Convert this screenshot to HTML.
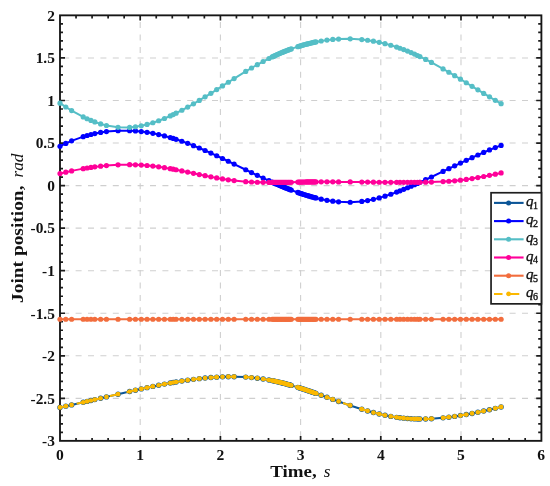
<!DOCTYPE html>
<html><head><meta charset="utf-8"><title>Joint position</title>
<style>html,body{margin:0;padding:0;background:#fff;} svg{display:block;filter:blur(0.35px);}</style>
</head><body>
<svg width="550" height="486" viewBox="0 0 550 486"><g stroke="#cfcfcf" stroke-width="1.1" stroke-dasharray="6 6.4" fill="none"><line x1="140.20" y1="15.40" x2="140.20" y2="440.90" stroke-dashoffset="5.7"/><line x1="220.40" y1="15.40" x2="220.40" y2="440.90" stroke-dashoffset="5.7"/><line x1="300.60" y1="15.40" x2="300.60" y2="440.90" stroke-dashoffset="5.7"/><line x1="380.80" y1="15.40" x2="380.80" y2="440.90" stroke-dashoffset="5.7"/><line x1="461.00" y1="15.40" x2="461.00" y2="440.90" stroke-dashoffset="5.7"/><line x1="60.00" y1="57.95" x2="541.20" y2="57.95" stroke-dashoffset="9.2"/><line x1="60.00" y1="100.50" x2="541.20" y2="100.50" stroke-dashoffset="9.2"/><line x1="60.00" y1="143.05" x2="541.20" y2="143.05" stroke-dashoffset="9.2"/><line x1="60.00" y1="185.60" x2="541.20" y2="185.60" stroke-dashoffset="9.2"/><line x1="60.00" y1="228.15" x2="541.20" y2="228.15" stroke-dashoffset="9.2"/><line x1="60.00" y1="270.70" x2="541.20" y2="270.70" stroke-dashoffset="9.2"/><line x1="60.00" y1="313.25" x2="541.20" y2="313.25" stroke-dashoffset="9.2"/><line x1="60.00" y1="355.80" x2="541.20" y2="355.80" stroke-dashoffset="9.2"/><line x1="60.00" y1="398.35" x2="541.20" y2="398.35" stroke-dashoffset="9.2"/></g>
<path d="M76.04 440.90v-3M76.04 15.40v3M92.08 440.90v-3M92.08 15.40v3M108.12 440.90v-3M108.12 15.40v3M124.16 440.90v-3M124.16 15.40v3M140.20 440.90v-5M140.20 15.40v5M156.24 440.90v-3M156.24 15.40v3M172.28 440.90v-3M172.28 15.40v3M188.32 440.90v-3M188.32 15.40v3M204.36 440.90v-3M204.36 15.40v3M220.40 440.90v-5M220.40 15.40v5M236.44 440.90v-3M236.44 15.40v3M252.48 440.90v-3M252.48 15.40v3M268.52 440.90v-3M268.52 15.40v3M284.56 440.90v-3M284.56 15.40v3M300.60 440.90v-5M300.60 15.40v5M316.64 440.90v-3M316.64 15.40v3M332.68 440.90v-3M332.68 15.40v3M348.72 440.90v-3M348.72 15.40v3M364.76 440.90v-3M364.76 15.40v3M380.80 440.90v-5M380.80 15.40v5M396.84 440.90v-3M396.84 15.40v3M412.88 440.90v-3M412.88 15.40v3M428.92 440.90v-3M428.92 15.40v3M444.96 440.90v-3M444.96 15.40v3M461.00 440.90v-5M461.00 15.40v5M477.04 440.90v-3M477.04 15.40v3M493.08 440.90v-3M493.08 15.40v3M509.12 440.90v-3M509.12 15.40v3M525.16 440.90v-3M525.16 15.40v3M60.00 23.91h3M541.20 23.91h-3M60.00 32.42h3M541.20 32.42h-3M60.00 40.93h3M541.20 40.93h-3M60.00 49.44h3M541.20 49.44h-3M60.00 57.95h5M541.20 57.95h-5M60.00 66.46h3M541.20 66.46h-3M60.00 74.97h3M541.20 74.97h-3M60.00 83.48h3M541.20 83.48h-3M60.00 91.99h3M541.20 91.99h-3M60.00 100.50h5M541.20 100.50h-5M60.00 109.01h3M541.20 109.01h-3M60.00 117.52h3M541.20 117.52h-3M60.00 126.03h3M541.20 126.03h-3M60.00 134.54h3M541.20 134.54h-3M60.00 143.05h5M541.20 143.05h-5M60.00 151.56h3M541.20 151.56h-3M60.00 160.07h3M541.20 160.07h-3M60.00 168.58h3M541.20 168.58h-3M60.00 177.09h3M541.20 177.09h-3M60.00 185.60h5M541.20 185.60h-5M60.00 194.11h3M541.20 194.11h-3M60.00 202.62h3M541.20 202.62h-3M60.00 211.13h3M541.20 211.13h-3M60.00 219.64h3M541.20 219.64h-3M60.00 228.15h5M541.20 228.15h-5M60.00 236.66h3M541.20 236.66h-3M60.00 245.17h3M541.20 245.17h-3M60.00 253.68h3M541.20 253.68h-3M60.00 262.19h3M541.20 262.19h-3M60.00 270.70h5M541.20 270.70h-5M60.00 279.21h3M541.20 279.21h-3M60.00 287.72h3M541.20 287.72h-3M60.00 296.23h3M541.20 296.23h-3M60.00 304.74h3M541.20 304.74h-3M60.00 313.25h5M541.20 313.25h-5M60.00 321.76h3M541.20 321.76h-3M60.00 330.27h3M541.20 330.27h-3M60.00 338.78h3M541.20 338.78h-3M60.00 347.29h3M541.20 347.29h-3M60.00 355.80h5M541.20 355.80h-5M60.00 364.31h3M541.20 364.31h-3M60.00 372.82h3M541.20 372.82h-3M60.00 381.33h3M541.20 381.33h-3M60.00 389.84h3M541.20 389.84h-3M60.00 398.35h5M541.20 398.35h-5M60.00 406.86h3M541.20 406.86h-3M60.00 415.37h3M541.20 415.37h-3M60.00 423.88h3M541.20 423.88h-3M60.00 432.39h3M541.20 432.39h-3" stroke="#1c1c1c" stroke-width="1.7" fill="none"/>
<rect x="60" y="15.35" width="481.4" height="425.5" fill="none" stroke="#161616" stroke-width="1.85"/>
<polyline points="60.00,407.38 65.80,406.16 71.61,404.90 83.22,402.31 87.09,401.42 90.95,400.52 94.82,399.62 100.63,398.26 106.43,396.90 118.04,394.18 129.65,391.49 135.45,390.18 141.26,388.90 147.06,387.64 152.86,386.42 158.67,385.24 164.47,384.11 170.28,383.03 173.18,382.51 176.08,382.01 181.88,381.05 187.69,380.17 193.49,379.37 199.29,378.65 205.10,378.04 210.90,377.53 216.71,377.13 222.51,376.85 228.31,376.71 234.12,376.70 245.73,377.12 251.53,377.58 257.33,378.20 263.14,379.00 268.94,379.98 272.13,380.61 273.26,380.84 274.39,381.08 275.51,381.33 276.64,381.58 277.77,381.84 278.89,382.10 280.02,382.37 281.15,382.65 282.27,382.94 283.40,383.22 284.53,383.52 285.65,383.82 286.78,384.12 287.91,384.43 289.03,384.75 290.16,385.07 291.29,385.39 297.85,387.37 299.05,387.75 300.26,388.13 301.47,388.51 302.67,388.90 303.88,389.30 305.09,389.70 306.30,390.10 307.50,390.50 308.71,390.91 309.92,391.32 311.13,391.73 312.33,392.14 313.54,392.56 314.75,392.98 315.95,393.40 321.18,395.24 326.98,397.31 332.79,399.39 338.59,401.45 350.20,405.46 361.81,409.21 367.61,410.93 373.41,412.54 379.22,414.00 385.02,415.29 390.82,416.41 396.63,417.34 400.00,417.77 403.70,418.17 407.50,418.50 411.10,418.73 414.50,418.88 417.50,418.96 419.90,418.99 425.65,418.94 431.45,418.72 443.06,417.84 448.86,417.19 454.67,416.42 460.47,415.53 466.28,414.54 472.08,413.45 477.88,412.28 483.69,411.04 489.49,409.73 495.30,408.36 501.10,406.95" fill="none" stroke="#0b5597" stroke-width="2"/>
<g fill="#0b5597"><circle cx="60.00" cy="407.38" r="2.7"/><circle cx="65.80" cy="406.16" r="2.7"/><circle cx="71.61" cy="404.90" r="2.7"/><circle cx="83.22" cy="402.31" r="2.7"/><circle cx="87.09" cy="401.42" r="2.7"/><circle cx="90.95" cy="400.52" r="2.7"/><circle cx="94.82" cy="399.62" r="2.7"/><circle cx="100.63" cy="398.26" r="2.7"/><circle cx="106.43" cy="396.90" r="2.7"/><circle cx="118.04" cy="394.18" r="2.7"/><circle cx="129.65" cy="391.49" r="2.7"/><circle cx="135.45" cy="390.18" r="2.7"/><circle cx="141.26" cy="388.90" r="2.7"/><circle cx="147.06" cy="387.64" r="2.7"/><circle cx="152.86" cy="386.42" r="2.7"/><circle cx="158.67" cy="385.24" r="2.7"/><circle cx="164.47" cy="384.11" r="2.7"/><circle cx="170.28" cy="383.03" r="2.7"/><circle cx="173.18" cy="382.51" r="2.7"/><circle cx="176.08" cy="382.01" r="2.7"/><circle cx="181.88" cy="381.05" r="2.7"/><circle cx="187.69" cy="380.17" r="2.7"/><circle cx="193.49" cy="379.37" r="2.7"/><circle cx="199.29" cy="378.65" r="2.7"/><circle cx="205.10" cy="378.04" r="2.7"/><circle cx="210.90" cy="377.53" r="2.7"/><circle cx="216.71" cy="377.13" r="2.7"/><circle cx="222.51" cy="376.85" r="2.7"/><circle cx="228.31" cy="376.71" r="2.7"/><circle cx="234.12" cy="376.70" r="2.7"/><circle cx="245.73" cy="377.12" r="2.7"/><circle cx="251.53" cy="377.58" r="2.7"/><circle cx="257.33" cy="378.20" r="2.7"/><circle cx="263.14" cy="379.00" r="2.7"/><circle cx="268.94" cy="379.98" r="2.7"/><circle cx="272.13" cy="380.61" r="2.7"/><circle cx="273.26" cy="380.84" r="2.7"/><circle cx="274.39" cy="381.08" r="2.7"/><circle cx="275.51" cy="381.33" r="2.7"/><circle cx="276.64" cy="381.58" r="2.7"/><circle cx="277.77" cy="381.84" r="2.7"/><circle cx="278.89" cy="382.10" r="2.7"/><circle cx="280.02" cy="382.37" r="2.7"/><circle cx="281.15" cy="382.65" r="2.7"/><circle cx="282.27" cy="382.94" r="2.7"/><circle cx="283.40" cy="383.22" r="2.7"/><circle cx="284.53" cy="383.52" r="2.7"/><circle cx="285.65" cy="383.82" r="2.7"/><circle cx="286.78" cy="384.12" r="2.7"/><circle cx="287.91" cy="384.43" r="2.7"/><circle cx="289.03" cy="384.75" r="2.7"/><circle cx="290.16" cy="385.07" r="2.7"/><circle cx="291.29" cy="385.39" r="2.7"/><circle cx="297.85" cy="387.37" r="2.7"/><circle cx="299.05" cy="387.75" r="2.7"/><circle cx="300.26" cy="388.13" r="2.7"/><circle cx="301.47" cy="388.51" r="2.7"/><circle cx="302.67" cy="388.90" r="2.7"/><circle cx="303.88" cy="389.30" r="2.7"/><circle cx="305.09" cy="389.70" r="2.7"/><circle cx="306.30" cy="390.10" r="2.7"/><circle cx="307.50" cy="390.50" r="2.7"/><circle cx="308.71" cy="390.91" r="2.7"/><circle cx="309.92" cy="391.32" r="2.7"/><circle cx="311.13" cy="391.73" r="2.7"/><circle cx="312.33" cy="392.14" r="2.7"/><circle cx="313.54" cy="392.56" r="2.7"/><circle cx="314.75" cy="392.98" r="2.7"/><circle cx="315.95" cy="393.40" r="2.7"/><circle cx="321.18" cy="395.24" r="2.7"/><circle cx="326.98" cy="397.31" r="2.7"/><circle cx="332.79" cy="399.39" r="2.7"/><circle cx="338.59" cy="401.45" r="2.7"/><circle cx="350.20" cy="405.46" r="2.7"/><circle cx="361.81" cy="409.21" r="2.7"/><circle cx="367.61" cy="410.93" r="2.7"/><circle cx="373.41" cy="412.54" r="2.7"/><circle cx="379.22" cy="414.00" r="2.7"/><circle cx="385.02" cy="415.29" r="2.7"/><circle cx="390.82" cy="416.41" r="2.7"/><circle cx="396.63" cy="417.34" r="2.7"/><circle cx="400.00" cy="417.77" r="2.7"/><circle cx="403.70" cy="418.17" r="2.7"/><circle cx="407.50" cy="418.50" r="2.7"/><circle cx="411.10" cy="418.73" r="2.7"/><circle cx="414.50" cy="418.88" r="2.7"/><circle cx="417.50" cy="418.96" r="2.7"/><circle cx="419.90" cy="418.99" r="2.7"/><circle cx="425.65" cy="418.94" r="2.7"/><circle cx="431.45" cy="418.72" r="2.7"/><circle cx="443.06" cy="417.84" r="2.7"/><circle cx="448.86" cy="417.19" r="2.7"/><circle cx="454.67" cy="416.42" r="2.7"/><circle cx="460.47" cy="415.53" r="2.7"/><circle cx="466.28" cy="414.54" r="2.7"/><circle cx="472.08" cy="413.45" r="2.7"/><circle cx="477.88" cy="412.28" r="2.7"/><circle cx="483.69" cy="411.04" r="2.7"/><circle cx="489.49" cy="409.73" r="2.7"/><circle cx="495.30" cy="408.36" r="2.7"/><circle cx="501.10" cy="406.95" r="2.7"/></g>
<polyline points="60.00,146.23 65.80,143.40 71.61,140.86 83.22,136.67 87.09,135.52 90.95,134.50 94.82,133.60 100.63,132.47 106.43,131.60 118.04,130.63 129.65,130.63 135.45,130.97 141.26,131.54 147.06,132.33 152.86,133.33 158.67,134.53 164.47,135.94 170.28,137.53 173.18,138.40 176.08,139.31 181.88,141.26 187.69,143.37 193.49,145.63 199.29,148.01 205.10,150.51 210.90,153.09 216.71,155.76 222.51,158.49 228.31,161.27 234.12,164.08 245.73,169.73 251.53,172.54 257.33,175.32 263.14,178.04 268.94,180.71 272.13,182.14 273.26,182.64 274.39,183.14 275.51,183.63 276.64,184.12 277.77,184.60 278.89,185.08 280.02,185.56 281.15,186.03 282.27,186.50 283.40,186.96 284.53,187.42 285.65,187.88 286.78,188.33 287.91,188.77 289.03,189.21 290.16,189.65 291.29,190.08 297.85,192.47 299.05,192.89 300.26,193.30 301.47,193.70 302.67,194.10 303.88,194.49 305.09,194.87 306.30,195.24 307.50,195.61 308.71,195.97 309.92,196.32 311.13,196.66 312.33,196.99 313.54,197.31 314.75,197.63 315.95,197.93 321.18,199.15 326.98,200.29 332.79,201.18 338.59,201.82 350.20,202.25 361.81,201.45 367.61,200.56 373.41,199.36 379.22,197.89 385.02,196.17 390.82,194.24 396.63,192.12 400.00,190.82 403.70,189.34 407.50,187.77 411.10,186.24 414.50,184.76 417.50,183.43 419.90,182.35 425.65,179.72 431.45,177.00 443.06,171.46 448.86,168.66 454.67,165.86 460.47,163.08 466.28,160.33 472.08,157.63 477.88,155.00 483.69,152.44 489.49,149.97 495.30,147.62 501.10,145.38" fill="none" stroke="#0000ff" stroke-width="2"/>
<g fill="#0000ff"><circle cx="60.00" cy="146.23" r="2.6"/><circle cx="65.80" cy="143.40" r="2.6"/><circle cx="71.61" cy="140.86" r="2.6"/><circle cx="83.22" cy="136.67" r="2.6"/><circle cx="87.09" cy="135.52" r="2.6"/><circle cx="90.95" cy="134.50" r="2.6"/><circle cx="94.82" cy="133.60" r="2.6"/><circle cx="100.63" cy="132.47" r="2.6"/><circle cx="106.43" cy="131.60" r="2.6"/><circle cx="118.04" cy="130.63" r="2.6"/><circle cx="129.65" cy="130.63" r="2.6"/><circle cx="135.45" cy="130.97" r="2.6"/><circle cx="141.26" cy="131.54" r="2.6"/><circle cx="147.06" cy="132.33" r="2.6"/><circle cx="152.86" cy="133.33" r="2.6"/><circle cx="158.67" cy="134.53" r="2.6"/><circle cx="164.47" cy="135.94" r="2.6"/><circle cx="170.28" cy="137.53" r="2.6"/><circle cx="173.18" cy="138.40" r="2.6"/><circle cx="176.08" cy="139.31" r="2.6"/><circle cx="181.88" cy="141.26" r="2.6"/><circle cx="187.69" cy="143.37" r="2.6"/><circle cx="193.49" cy="145.63" r="2.6"/><circle cx="199.29" cy="148.01" r="2.6"/><circle cx="205.10" cy="150.51" r="2.6"/><circle cx="210.90" cy="153.09" r="2.6"/><circle cx="216.71" cy="155.76" r="2.6"/><circle cx="222.51" cy="158.49" r="2.6"/><circle cx="228.31" cy="161.27" r="2.6"/><circle cx="234.12" cy="164.08" r="2.6"/><circle cx="245.73" cy="169.73" r="2.6"/><circle cx="251.53" cy="172.54" r="2.6"/><circle cx="257.33" cy="175.32" r="2.6"/><circle cx="263.14" cy="178.04" r="2.6"/><circle cx="268.94" cy="180.71" r="2.6"/><circle cx="272.13" cy="182.14" r="2.6"/><circle cx="273.26" cy="182.64" r="2.6"/><circle cx="274.39" cy="183.14" r="2.6"/><circle cx="275.51" cy="183.63" r="2.6"/><circle cx="276.64" cy="184.12" r="2.6"/><circle cx="277.77" cy="184.60" r="2.6"/><circle cx="278.89" cy="185.08" r="2.6"/><circle cx="280.02" cy="185.56" r="2.6"/><circle cx="281.15" cy="186.03" r="2.6"/><circle cx="282.27" cy="186.50" r="2.6"/><circle cx="283.40" cy="186.96" r="2.6"/><circle cx="284.53" cy="187.42" r="2.6"/><circle cx="285.65" cy="187.88" r="2.6"/><circle cx="286.78" cy="188.33" r="2.6"/><circle cx="287.91" cy="188.77" r="2.6"/><circle cx="289.03" cy="189.21" r="2.6"/><circle cx="290.16" cy="189.65" r="2.6"/><circle cx="291.29" cy="190.08" r="2.6"/><circle cx="297.85" cy="192.47" r="2.6"/><circle cx="299.05" cy="192.89" r="2.6"/><circle cx="300.26" cy="193.30" r="2.6"/><circle cx="301.47" cy="193.70" r="2.6"/><circle cx="302.67" cy="194.10" r="2.6"/><circle cx="303.88" cy="194.49" r="2.6"/><circle cx="305.09" cy="194.87" r="2.6"/><circle cx="306.30" cy="195.24" r="2.6"/><circle cx="307.50" cy="195.61" r="2.6"/><circle cx="308.71" cy="195.97" r="2.6"/><circle cx="309.92" cy="196.32" r="2.6"/><circle cx="311.13" cy="196.66" r="2.6"/><circle cx="312.33" cy="196.99" r="2.6"/><circle cx="313.54" cy="197.31" r="2.6"/><circle cx="314.75" cy="197.63" r="2.6"/><circle cx="315.95" cy="197.93" r="2.6"/><circle cx="321.18" cy="199.15" r="2.6"/><circle cx="326.98" cy="200.29" r="2.6"/><circle cx="332.79" cy="201.18" r="2.6"/><circle cx="338.59" cy="201.82" r="2.6"/><circle cx="350.20" cy="202.25" r="2.6"/><circle cx="361.81" cy="201.45" r="2.6"/><circle cx="367.61" cy="200.56" r="2.6"/><circle cx="373.41" cy="199.36" r="2.6"/><circle cx="379.22" cy="197.89" r="2.6"/><circle cx="385.02" cy="196.17" r="2.6"/><circle cx="390.82" cy="194.24" r="2.6"/><circle cx="396.63" cy="192.12" r="2.6"/><circle cx="400.00" cy="190.82" r="2.6"/><circle cx="403.70" cy="189.34" r="2.6"/><circle cx="407.50" cy="187.77" r="2.6"/><circle cx="411.10" cy="186.24" r="2.6"/><circle cx="414.50" cy="184.76" r="2.6"/><circle cx="417.50" cy="183.43" r="2.6"/><circle cx="419.90" cy="182.35" r="2.6"/><circle cx="425.65" cy="179.72" r="2.6"/><circle cx="431.45" cy="177.00" r="2.6"/><circle cx="443.06" cy="171.46" r="2.6"/><circle cx="448.86" cy="168.66" r="2.6"/><circle cx="454.67" cy="165.86" r="2.6"/><circle cx="460.47" cy="163.08" r="2.6"/><circle cx="466.28" cy="160.33" r="2.6"/><circle cx="472.08" cy="157.63" r="2.6"/><circle cx="477.88" cy="155.00" r="2.6"/><circle cx="483.69" cy="152.44" r="2.6"/><circle cx="489.49" cy="149.97" r="2.6"/><circle cx="495.30" cy="147.62" r="2.6"/><circle cx="501.10" cy="145.38" r="2.6"/></g>
<polyline points="60.00,103.13 65.80,106.98 71.61,110.58 83.22,116.91 87.09,118.74 90.95,120.42 94.82,121.94 100.63,123.91 106.43,125.48 118.04,127.33 129.65,127.38 135.45,126.78 141.26,125.79 147.06,124.44 152.86,122.75 158.67,120.76 164.47,118.49 170.28,115.96 173.18,114.61 176.08,113.20 181.88,110.24 187.69,107.10 193.49,103.81 199.29,100.40 205.10,96.87 210.90,93.28 216.71,89.62 222.51,85.95 228.31,82.26 234.12,78.60 245.73,71.45 251.53,68.01 257.33,64.69 263.14,61.51 268.94,58.51 272.13,56.95 273.26,56.41 274.39,55.88 275.51,55.35 276.64,54.84 277.77,54.33 278.89,53.84 280.02,53.35 281.15,52.86 282.27,52.39 283.40,51.92 284.53,51.46 285.65,51.01 286.78,50.57 287.91,50.14 289.03,49.71 290.16,49.29 291.29,48.88 297.85,46.66 299.05,46.28 300.26,45.91 301.47,45.55 302.67,45.20 303.88,44.85 305.09,44.52 306.30,44.20 307.50,43.88 308.71,43.58 309.92,43.28 311.13,43.00 312.33,42.72 313.54,42.45 314.75,42.20 315.95,41.95 321.18,40.98 326.98,40.12 332.79,39.47 338.59,39.04 350.20,38.86 361.81,39.56 367.61,40.25 373.41,41.16 379.22,42.30 385.02,43.66 390.82,45.26 396.63,47.08 400.00,48.24 403.70,49.61 407.50,51.11 411.10,52.61 414.50,54.11 417.50,55.48 419.90,56.62 425.65,59.45 431.45,62.47 443.06,68.89 448.86,72.26 454.67,75.70 460.47,79.20 466.28,82.74 472.08,86.30 477.88,89.85 483.69,93.38 489.49,96.87 495.30,100.30 501.10,103.65" fill="none" stroke="#55bec6" stroke-width="2"/>
<g fill="#55bec6"><circle cx="60.00" cy="103.13" r="2.6"/><circle cx="65.80" cy="106.98" r="2.6"/><circle cx="71.61" cy="110.58" r="2.6"/><circle cx="83.22" cy="116.91" r="2.6"/><circle cx="87.09" cy="118.74" r="2.6"/><circle cx="90.95" cy="120.42" r="2.6"/><circle cx="94.82" cy="121.94" r="2.6"/><circle cx="100.63" cy="123.91" r="2.6"/><circle cx="106.43" cy="125.48" r="2.6"/><circle cx="118.04" cy="127.33" r="2.6"/><circle cx="129.65" cy="127.38" r="2.6"/><circle cx="135.45" cy="126.78" r="2.6"/><circle cx="141.26" cy="125.79" r="2.6"/><circle cx="147.06" cy="124.44" r="2.6"/><circle cx="152.86" cy="122.75" r="2.6"/><circle cx="158.67" cy="120.76" r="2.6"/><circle cx="164.47" cy="118.49" r="2.6"/><circle cx="170.28" cy="115.96" r="2.6"/><circle cx="173.18" cy="114.61" r="2.6"/><circle cx="176.08" cy="113.20" r="2.6"/><circle cx="181.88" cy="110.24" r="2.6"/><circle cx="187.69" cy="107.10" r="2.6"/><circle cx="193.49" cy="103.81" r="2.6"/><circle cx="199.29" cy="100.40" r="2.6"/><circle cx="205.10" cy="96.87" r="2.6"/><circle cx="210.90" cy="93.28" r="2.6"/><circle cx="216.71" cy="89.62" r="2.6"/><circle cx="222.51" cy="85.95" r="2.6"/><circle cx="228.31" cy="82.26" r="2.6"/><circle cx="234.12" cy="78.60" r="2.6"/><circle cx="245.73" cy="71.45" r="2.6"/><circle cx="251.53" cy="68.01" r="2.6"/><circle cx="257.33" cy="64.69" r="2.6"/><circle cx="263.14" cy="61.51" r="2.6"/><circle cx="268.94" cy="58.51" r="2.6"/><circle cx="272.13" cy="56.95" r="2.6"/><circle cx="273.26" cy="56.41" r="2.6"/><circle cx="274.39" cy="55.88" r="2.6"/><circle cx="275.51" cy="55.35" r="2.6"/><circle cx="276.64" cy="54.84" r="2.6"/><circle cx="277.77" cy="54.33" r="2.6"/><circle cx="278.89" cy="53.84" r="2.6"/><circle cx="280.02" cy="53.35" r="2.6"/><circle cx="281.15" cy="52.86" r="2.6"/><circle cx="282.27" cy="52.39" r="2.6"/><circle cx="283.40" cy="51.92" r="2.6"/><circle cx="284.53" cy="51.46" r="2.6"/><circle cx="285.65" cy="51.01" r="2.6"/><circle cx="286.78" cy="50.57" r="2.6"/><circle cx="287.91" cy="50.14" r="2.6"/><circle cx="289.03" cy="49.71" r="2.6"/><circle cx="290.16" cy="49.29" r="2.6"/><circle cx="291.29" cy="48.88" r="2.6"/><circle cx="297.85" cy="46.66" r="2.6"/><circle cx="299.05" cy="46.28" r="2.6"/><circle cx="300.26" cy="45.91" r="2.6"/><circle cx="301.47" cy="45.55" r="2.6"/><circle cx="302.67" cy="45.20" r="2.6"/><circle cx="303.88" cy="44.85" r="2.6"/><circle cx="305.09" cy="44.52" r="2.6"/><circle cx="306.30" cy="44.20" r="2.6"/><circle cx="307.50" cy="43.88" r="2.6"/><circle cx="308.71" cy="43.58" r="2.6"/><circle cx="309.92" cy="43.28" r="2.6"/><circle cx="311.13" cy="43.00" r="2.6"/><circle cx="312.33" cy="42.72" r="2.6"/><circle cx="313.54" cy="42.45" r="2.6"/><circle cx="314.75" cy="42.20" r="2.6"/><circle cx="315.95" cy="41.95" r="2.6"/><circle cx="321.18" cy="40.98" r="2.6"/><circle cx="326.98" cy="40.12" r="2.6"/><circle cx="332.79" cy="39.47" r="2.6"/><circle cx="338.59" cy="39.04" r="2.6"/><circle cx="350.20" cy="38.86" r="2.6"/><circle cx="361.81" cy="39.56" r="2.6"/><circle cx="367.61" cy="40.25" r="2.6"/><circle cx="373.41" cy="41.16" r="2.6"/><circle cx="379.22" cy="42.30" r="2.6"/><circle cx="385.02" cy="43.66" r="2.6"/><circle cx="390.82" cy="45.26" r="2.6"/><circle cx="396.63" cy="47.08" r="2.6"/><circle cx="400.00" cy="48.24" r="2.6"/><circle cx="403.70" cy="49.61" r="2.6"/><circle cx="407.50" cy="51.11" r="2.6"/><circle cx="411.10" cy="52.61" r="2.6"/><circle cx="414.50" cy="54.11" r="2.6"/><circle cx="417.50" cy="55.48" r="2.6"/><circle cx="419.90" cy="56.62" r="2.6"/><circle cx="425.65" cy="59.45" r="2.6"/><circle cx="431.45" cy="62.47" r="2.6"/><circle cx="443.06" cy="68.89" r="2.6"/><circle cx="448.86" cy="72.26" r="2.6"/><circle cx="454.67" cy="75.70" r="2.6"/><circle cx="460.47" cy="79.20" r="2.6"/><circle cx="466.28" cy="82.74" r="2.6"/><circle cx="472.08" cy="86.30" r="2.6"/><circle cx="477.88" cy="89.85" r="2.6"/><circle cx="483.69" cy="93.38" r="2.6"/><circle cx="489.49" cy="96.87" r="2.6"/><circle cx="495.30" cy="100.30" r="2.6"/><circle cx="501.10" cy="103.65" r="2.6"/></g>
<polyline points="60.00,173.57 65.80,172.17 71.61,170.88 83.22,168.64 87.09,168.00 90.95,167.41 94.82,166.87 100.63,166.18 106.43,165.61 118.04,164.87 129.65,164.69 135.45,164.82 141.26,165.09 147.06,165.52 152.86,166.10 158.67,166.84 164.47,167.71 170.28,168.70 173.18,169.22 176.08,169.77 181.88,170.91 187.69,172.10 193.49,173.31 199.29,174.53 205.10,175.72 210.90,176.86 216.71,177.95 222.51,178.94 228.31,179.82 234.12,180.58 245.73,181.65 251.53,181.99 257.33,182.23 263.14,182.37 268.94,182.44 272.13,182.45 273.26,182.45 274.39,182.44 275.51,182.44 276.64,182.43 277.77,182.42 278.89,182.41 280.02,182.40 281.15,182.39 282.27,182.37 283.40,182.36 284.53,182.34 285.65,182.33 286.78,182.31 287.91,182.29 289.03,182.27 290.16,182.25 291.29,182.23 297.85,182.11 299.05,182.09 300.26,182.07 301.47,182.04 302.67,182.03 303.88,182.01 305.09,181.99 306.30,181.97 307.50,181.96 308.71,181.94 309.92,181.93 311.13,181.92 312.33,181.91 313.54,181.90 314.75,181.89 315.95,181.88 321.18,181.85 326.98,181.85 332.79,181.85 338.59,181.88 350.20,181.96 361.81,182.06 367.61,182.12 373.41,182.18 379.22,182.23 385.02,182.28 390.82,182.32 396.63,182.34 400.00,182.35 403.70,182.35 407.50,182.35 411.10,182.34 414.50,182.32 417.50,182.30 419.90,182.28 425.65,182.20 431.45,182.07 443.06,181.61 448.86,181.25 454.67,180.78 460.47,180.19 466.28,179.46 472.08,178.59 477.88,177.61 483.69,176.52 489.49,175.37 495.30,174.17 501.10,172.96" fill="none" stroke="#ff0099" stroke-width="2"/>
<g fill="#ff0099"><circle cx="60.00" cy="173.57" r="2.6"/><circle cx="65.80" cy="172.17" r="2.6"/><circle cx="71.61" cy="170.88" r="2.6"/><circle cx="83.22" cy="168.64" r="2.6"/><circle cx="87.09" cy="168.00" r="2.6"/><circle cx="90.95" cy="167.41" r="2.6"/><circle cx="94.82" cy="166.87" r="2.6"/><circle cx="100.63" cy="166.18" r="2.6"/><circle cx="106.43" cy="165.61" r="2.6"/><circle cx="118.04" cy="164.87" r="2.6"/><circle cx="129.65" cy="164.69" r="2.6"/><circle cx="135.45" cy="164.82" r="2.6"/><circle cx="141.26" cy="165.09" r="2.6"/><circle cx="147.06" cy="165.52" r="2.6"/><circle cx="152.86" cy="166.10" r="2.6"/><circle cx="158.67" cy="166.84" r="2.6"/><circle cx="164.47" cy="167.71" r="2.6"/><circle cx="170.28" cy="168.70" r="2.6"/><circle cx="173.18" cy="169.22" r="2.6"/><circle cx="176.08" cy="169.77" r="2.6"/><circle cx="181.88" cy="170.91" r="2.6"/><circle cx="187.69" cy="172.10" r="2.6"/><circle cx="193.49" cy="173.31" r="2.6"/><circle cx="199.29" cy="174.53" r="2.6"/><circle cx="205.10" cy="175.72" r="2.6"/><circle cx="210.90" cy="176.86" r="2.6"/><circle cx="216.71" cy="177.95" r="2.6"/><circle cx="222.51" cy="178.94" r="2.6"/><circle cx="228.31" cy="179.82" r="2.6"/><circle cx="234.12" cy="180.58" r="2.6"/><circle cx="245.73" cy="181.65" r="2.6"/><circle cx="251.53" cy="181.99" r="2.6"/><circle cx="257.33" cy="182.23" r="2.6"/><circle cx="263.14" cy="182.37" r="2.6"/><circle cx="268.94" cy="182.44" r="2.6"/><circle cx="272.13" cy="182.45" r="2.6"/><circle cx="273.26" cy="182.45" r="2.6"/><circle cx="274.39" cy="182.44" r="2.6"/><circle cx="275.51" cy="182.44" r="2.6"/><circle cx="276.64" cy="182.43" r="2.6"/><circle cx="277.77" cy="182.42" r="2.6"/><circle cx="278.89" cy="182.41" r="2.6"/><circle cx="280.02" cy="182.40" r="2.6"/><circle cx="281.15" cy="182.39" r="2.6"/><circle cx="282.27" cy="182.37" r="2.6"/><circle cx="283.40" cy="182.36" r="2.6"/><circle cx="284.53" cy="182.34" r="2.6"/><circle cx="285.65" cy="182.33" r="2.6"/><circle cx="286.78" cy="182.31" r="2.6"/><circle cx="287.91" cy="182.29" r="2.6"/><circle cx="289.03" cy="182.27" r="2.6"/><circle cx="290.16" cy="182.25" r="2.6"/><circle cx="291.29" cy="182.23" r="2.6"/><circle cx="297.85" cy="182.11" r="2.6"/><circle cx="299.05" cy="182.09" r="2.6"/><circle cx="300.26" cy="182.07" r="2.6"/><circle cx="301.47" cy="182.04" r="2.6"/><circle cx="302.67" cy="182.03" r="2.6"/><circle cx="303.88" cy="182.01" r="2.6"/><circle cx="305.09" cy="181.99" r="2.6"/><circle cx="306.30" cy="181.97" r="2.6"/><circle cx="307.50" cy="181.96" r="2.6"/><circle cx="308.71" cy="181.94" r="2.6"/><circle cx="309.92" cy="181.93" r="2.6"/><circle cx="311.13" cy="181.92" r="2.6"/><circle cx="312.33" cy="181.91" r="2.6"/><circle cx="313.54" cy="181.90" r="2.6"/><circle cx="314.75" cy="181.89" r="2.6"/><circle cx="315.95" cy="181.88" r="2.6"/><circle cx="321.18" cy="181.85" r="2.6"/><circle cx="326.98" cy="181.85" r="2.6"/><circle cx="332.79" cy="181.85" r="2.6"/><circle cx="338.59" cy="181.88" r="2.6"/><circle cx="350.20" cy="181.96" r="2.6"/><circle cx="361.81" cy="182.06" r="2.6"/><circle cx="367.61" cy="182.12" r="2.6"/><circle cx="373.41" cy="182.18" r="2.6"/><circle cx="379.22" cy="182.23" r="2.6"/><circle cx="385.02" cy="182.28" r="2.6"/><circle cx="390.82" cy="182.32" r="2.6"/><circle cx="396.63" cy="182.34" r="2.6"/><circle cx="400.00" cy="182.35" r="2.6"/><circle cx="403.70" cy="182.35" r="2.6"/><circle cx="407.50" cy="182.35" r="2.6"/><circle cx="411.10" cy="182.34" r="2.6"/><circle cx="414.50" cy="182.32" r="2.6"/><circle cx="417.50" cy="182.30" r="2.6"/><circle cx="419.90" cy="182.28" r="2.6"/><circle cx="425.65" cy="182.20" r="2.6"/><circle cx="431.45" cy="182.07" r="2.6"/><circle cx="443.06" cy="181.61" r="2.6"/><circle cx="448.86" cy="181.25" r="2.6"/><circle cx="454.67" cy="180.78" r="2.6"/><circle cx="460.47" cy="180.19" r="2.6"/><circle cx="466.28" cy="179.46" r="2.6"/><circle cx="472.08" cy="178.59" r="2.6"/><circle cx="477.88" cy="177.61" r="2.6"/><circle cx="483.69" cy="176.52" r="2.6"/><circle cx="489.49" cy="175.37" r="2.6"/><circle cx="495.30" cy="174.17" r="2.6"/><circle cx="501.10" cy="172.96" r="2.6"/></g>
<polyline points="60.00,319.27 65.80,319.27 71.61,319.27 83.22,319.27 87.09,319.27 90.95,319.27 94.82,319.27 100.63,319.27 106.43,319.27 118.04,319.27 129.65,319.27 135.45,319.27 141.26,319.27 147.06,319.27 152.86,319.27 158.67,319.27 164.47,319.27 170.28,319.27 173.18,319.27 176.08,319.27 181.88,319.27 187.69,319.27 193.49,319.27 199.29,319.27 205.10,319.27 210.90,319.27 216.71,319.27 222.51,319.27 228.31,319.27 234.12,319.27 245.73,319.27 251.53,319.27 257.33,319.27 263.14,319.27 268.94,319.27 272.13,319.27 273.26,319.27 274.39,319.27 275.51,319.27 276.64,319.27 277.77,319.27 278.89,319.27 280.02,319.27 281.15,319.27 282.27,319.27 283.40,319.27 284.53,319.27 285.65,319.27 286.78,319.27 287.91,319.27 289.03,319.27 290.16,319.27 291.29,319.27 297.85,319.27 299.05,319.27 300.26,319.27 301.47,319.27 302.67,319.27 303.88,319.27 305.09,319.27 306.30,319.27 307.50,319.27 308.71,319.27 309.92,319.27 311.13,319.27 312.33,319.27 313.54,319.27 314.75,319.27 315.95,319.27 321.18,319.27 326.98,319.27 332.79,319.27 338.59,319.27 350.20,319.27 361.81,319.27 367.61,319.27 373.41,319.27 379.22,319.27 385.02,319.27 390.82,319.27 396.63,319.27 400.00,319.27 403.70,319.27 407.50,319.27 411.10,319.27 414.50,319.27 417.50,319.27 419.90,319.27 425.65,319.27 431.45,319.27 443.06,319.27 448.86,319.27 454.67,319.27 460.47,319.27 466.28,319.27 472.08,319.27 477.88,319.27 483.69,319.27 489.49,319.27 495.30,319.27 501.10,319.27" fill="none" stroke="#f26d3d" stroke-width="2"/>
<g fill="#f26d3d"><circle cx="60.00" cy="319.27" r="2.6"/><circle cx="65.80" cy="319.27" r="2.6"/><circle cx="71.61" cy="319.27" r="2.6"/><circle cx="83.22" cy="319.27" r="2.6"/><circle cx="87.09" cy="319.27" r="2.6"/><circle cx="90.95" cy="319.27" r="2.6"/><circle cx="94.82" cy="319.27" r="2.6"/><circle cx="100.63" cy="319.27" r="2.6"/><circle cx="106.43" cy="319.27" r="2.6"/><circle cx="118.04" cy="319.27" r="2.6"/><circle cx="129.65" cy="319.27" r="2.6"/><circle cx="135.45" cy="319.27" r="2.6"/><circle cx="141.26" cy="319.27" r="2.6"/><circle cx="147.06" cy="319.27" r="2.6"/><circle cx="152.86" cy="319.27" r="2.6"/><circle cx="158.67" cy="319.27" r="2.6"/><circle cx="164.47" cy="319.27" r="2.6"/><circle cx="170.28" cy="319.27" r="2.6"/><circle cx="173.18" cy="319.27" r="2.6"/><circle cx="176.08" cy="319.27" r="2.6"/><circle cx="181.88" cy="319.27" r="2.6"/><circle cx="187.69" cy="319.27" r="2.6"/><circle cx="193.49" cy="319.27" r="2.6"/><circle cx="199.29" cy="319.27" r="2.6"/><circle cx="205.10" cy="319.27" r="2.6"/><circle cx="210.90" cy="319.27" r="2.6"/><circle cx="216.71" cy="319.27" r="2.6"/><circle cx="222.51" cy="319.27" r="2.6"/><circle cx="228.31" cy="319.27" r="2.6"/><circle cx="234.12" cy="319.27" r="2.6"/><circle cx="245.73" cy="319.27" r="2.6"/><circle cx="251.53" cy="319.27" r="2.6"/><circle cx="257.33" cy="319.27" r="2.6"/><circle cx="263.14" cy="319.27" r="2.6"/><circle cx="268.94" cy="319.27" r="2.6"/><circle cx="272.13" cy="319.27" r="2.6"/><circle cx="273.26" cy="319.27" r="2.6"/><circle cx="274.39" cy="319.27" r="2.6"/><circle cx="275.51" cy="319.27" r="2.6"/><circle cx="276.64" cy="319.27" r="2.6"/><circle cx="277.77" cy="319.27" r="2.6"/><circle cx="278.89" cy="319.27" r="2.6"/><circle cx="280.02" cy="319.27" r="2.6"/><circle cx="281.15" cy="319.27" r="2.6"/><circle cx="282.27" cy="319.27" r="2.6"/><circle cx="283.40" cy="319.27" r="2.6"/><circle cx="284.53" cy="319.27" r="2.6"/><circle cx="285.65" cy="319.27" r="2.6"/><circle cx="286.78" cy="319.27" r="2.6"/><circle cx="287.91" cy="319.27" r="2.6"/><circle cx="289.03" cy="319.27" r="2.6"/><circle cx="290.16" cy="319.27" r="2.6"/><circle cx="291.29" cy="319.27" r="2.6"/><circle cx="297.85" cy="319.27" r="2.6"/><circle cx="299.05" cy="319.27" r="2.6"/><circle cx="300.26" cy="319.27" r="2.6"/><circle cx="301.47" cy="319.27" r="2.6"/><circle cx="302.67" cy="319.27" r="2.6"/><circle cx="303.88" cy="319.27" r="2.6"/><circle cx="305.09" cy="319.27" r="2.6"/><circle cx="306.30" cy="319.27" r="2.6"/><circle cx="307.50" cy="319.27" r="2.6"/><circle cx="308.71" cy="319.27" r="2.6"/><circle cx="309.92" cy="319.27" r="2.6"/><circle cx="311.13" cy="319.27" r="2.6"/><circle cx="312.33" cy="319.27" r="2.6"/><circle cx="313.54" cy="319.27" r="2.6"/><circle cx="314.75" cy="319.27" r="2.6"/><circle cx="315.95" cy="319.27" r="2.6"/><circle cx="321.18" cy="319.27" r="2.6"/><circle cx="326.98" cy="319.27" r="2.6"/><circle cx="332.79" cy="319.27" r="2.6"/><circle cx="338.59" cy="319.27" r="2.6"/><circle cx="350.20" cy="319.27" r="2.6"/><circle cx="361.81" cy="319.27" r="2.6"/><circle cx="367.61" cy="319.27" r="2.6"/><circle cx="373.41" cy="319.27" r="2.6"/><circle cx="379.22" cy="319.27" r="2.6"/><circle cx="385.02" cy="319.27" r="2.6"/><circle cx="390.82" cy="319.27" r="2.6"/><circle cx="396.63" cy="319.27" r="2.6"/><circle cx="400.00" cy="319.27" r="2.6"/><circle cx="403.70" cy="319.27" r="2.6"/><circle cx="407.50" cy="319.27" r="2.6"/><circle cx="411.10" cy="319.27" r="2.6"/><circle cx="414.50" cy="319.27" r="2.6"/><circle cx="417.50" cy="319.27" r="2.6"/><circle cx="419.90" cy="319.27" r="2.6"/><circle cx="425.65" cy="319.27" r="2.6"/><circle cx="431.45" cy="319.27" r="2.6"/><circle cx="443.06" cy="319.27" r="2.6"/><circle cx="448.86" cy="319.27" r="2.6"/><circle cx="454.67" cy="319.27" r="2.6"/><circle cx="460.47" cy="319.27" r="2.6"/><circle cx="466.28" cy="319.27" r="2.6"/><circle cx="472.08" cy="319.27" r="2.6"/><circle cx="477.88" cy="319.27" r="2.6"/><circle cx="483.69" cy="319.27" r="2.6"/><circle cx="489.49" cy="319.27" r="2.6"/><circle cx="495.30" cy="319.27" r="2.6"/><circle cx="501.10" cy="319.27" r="2.6"/></g>
<polyline points="60.00,407.38 65.80,406.16 71.61,404.90 83.22,402.31 87.09,401.42 90.95,400.52 94.82,399.62 100.63,398.26 106.43,396.90 118.04,394.18 129.65,391.49 135.45,390.18 141.26,388.90 147.06,387.64 152.86,386.42 158.67,385.24 164.47,384.11 170.28,383.03 173.18,382.51 176.08,382.01 181.88,381.05 187.69,380.17 193.49,379.37 199.29,378.65 205.10,378.04 210.90,377.53 216.71,377.13 222.51,376.85 228.31,376.71 234.12,376.70 245.73,377.12 251.53,377.58 257.33,378.20 263.14,379.00 268.94,379.98 272.13,380.61 273.26,380.84 274.39,381.08 275.51,381.33 276.64,381.58 277.77,381.84 278.89,382.10 280.02,382.37 281.15,382.65 282.27,382.94 283.40,383.22 284.53,383.52 285.65,383.82 286.78,384.12 287.91,384.43 289.03,384.75 290.16,385.07 291.29,385.39 297.85,387.37 299.05,387.75 300.26,388.13 301.47,388.51 302.67,388.90 303.88,389.30 305.09,389.70 306.30,390.10 307.50,390.50 308.71,390.91 309.92,391.32 311.13,391.73 312.33,392.14 313.54,392.56 314.75,392.98 315.95,393.40 321.18,395.24 326.98,397.31 332.79,399.39 338.59,401.45 350.20,405.46 361.81,409.21 367.61,410.93 373.41,412.54 379.22,414.00 385.02,415.29 390.82,416.41 396.63,417.34 400.00,417.77 403.70,418.17 407.50,418.50 411.10,418.73 414.50,418.88 417.50,418.96 419.90,418.99 425.65,418.94 431.45,418.72 443.06,417.84 448.86,417.19 454.67,416.42 460.47,415.53 466.28,414.54 472.08,413.45 477.88,412.28 483.69,411.04 489.49,409.73 495.30,408.36 501.10,406.95" fill="none" stroke="#fbb800" stroke-width="2" stroke-dasharray="8.3 8.75"/>
<g fill="#fbb800"><circle cx="60.00" cy="407.38" r="2.35"/><circle cx="65.80" cy="406.16" r="2.35"/><circle cx="71.61" cy="404.90" r="2.35"/><circle cx="83.22" cy="402.31" r="2.35"/><circle cx="87.09" cy="401.42" r="2.35"/><circle cx="90.95" cy="400.52" r="2.35"/><circle cx="94.82" cy="399.62" r="2.35"/><circle cx="100.63" cy="398.26" r="2.35"/><circle cx="106.43" cy="396.90" r="2.35"/><circle cx="118.04" cy="394.18" r="2.35"/><circle cx="129.65" cy="391.49" r="2.35"/><circle cx="135.45" cy="390.18" r="2.35"/><circle cx="141.26" cy="388.90" r="2.35"/><circle cx="147.06" cy="387.64" r="2.35"/><circle cx="152.86" cy="386.42" r="2.35"/><circle cx="158.67" cy="385.24" r="2.35"/><circle cx="164.47" cy="384.11" r="2.35"/><circle cx="170.28" cy="383.03" r="2.35"/><circle cx="173.18" cy="382.51" r="2.35"/><circle cx="176.08" cy="382.01" r="2.35"/><circle cx="181.88" cy="381.05" r="2.35"/><circle cx="187.69" cy="380.17" r="2.35"/><circle cx="193.49" cy="379.37" r="2.35"/><circle cx="199.29" cy="378.65" r="2.35"/><circle cx="205.10" cy="378.04" r="2.35"/><circle cx="210.90" cy="377.53" r="2.35"/><circle cx="216.71" cy="377.13" r="2.35"/><circle cx="222.51" cy="376.85" r="2.35"/><circle cx="228.31" cy="376.71" r="2.35"/><circle cx="234.12" cy="376.70" r="2.35"/><circle cx="245.73" cy="377.12" r="2.35"/><circle cx="251.53" cy="377.58" r="2.35"/><circle cx="257.33" cy="378.20" r="2.35"/><circle cx="263.14" cy="379.00" r="2.35"/><circle cx="268.94" cy="379.98" r="2.35"/><circle cx="272.13" cy="380.61" r="2.35"/><circle cx="273.26" cy="380.84" r="2.35"/><circle cx="274.39" cy="381.08" r="2.35"/><circle cx="275.51" cy="381.33" r="2.35"/><circle cx="276.64" cy="381.58" r="2.35"/><circle cx="277.77" cy="381.84" r="2.35"/><circle cx="278.89" cy="382.10" r="2.35"/><circle cx="280.02" cy="382.37" r="2.35"/><circle cx="281.15" cy="382.65" r="2.35"/><circle cx="282.27" cy="382.94" r="2.35"/><circle cx="283.40" cy="383.22" r="2.35"/><circle cx="284.53" cy="383.52" r="2.35"/><circle cx="285.65" cy="383.82" r="2.35"/><circle cx="286.78" cy="384.12" r="2.35"/><circle cx="287.91" cy="384.43" r="2.35"/><circle cx="289.03" cy="384.75" r="2.35"/><circle cx="290.16" cy="385.07" r="2.35"/><circle cx="291.29" cy="385.39" r="2.35"/><circle cx="297.85" cy="387.37" r="2.35"/><circle cx="299.05" cy="387.75" r="2.35"/><circle cx="300.26" cy="388.13" r="2.35"/><circle cx="301.47" cy="388.51" r="2.35"/><circle cx="302.67" cy="388.90" r="2.35"/><circle cx="303.88" cy="389.30" r="2.35"/><circle cx="305.09" cy="389.70" r="2.35"/><circle cx="306.30" cy="390.10" r="2.35"/><circle cx="307.50" cy="390.50" r="2.35"/><circle cx="308.71" cy="390.91" r="2.35"/><circle cx="309.92" cy="391.32" r="2.35"/><circle cx="311.13" cy="391.73" r="2.35"/><circle cx="312.33" cy="392.14" r="2.35"/><circle cx="313.54" cy="392.56" r="2.35"/><circle cx="314.75" cy="392.98" r="2.35"/><circle cx="315.95" cy="393.40" r="2.35"/><circle cx="321.18" cy="395.24" r="2.35"/><circle cx="326.98" cy="397.31" r="2.35"/><circle cx="332.79" cy="399.39" r="2.35"/><circle cx="338.59" cy="401.45" r="2.35"/><circle cx="350.20" cy="405.46" r="2.35"/><circle cx="361.81" cy="409.21" r="2.35"/><circle cx="367.61" cy="410.93" r="2.35"/><circle cx="373.41" cy="412.54" r="2.35"/><circle cx="379.22" cy="414.00" r="2.35"/><circle cx="385.02" cy="415.29" r="2.35"/><circle cx="390.82" cy="416.41" r="2.35"/><circle cx="396.63" cy="417.34" r="2.35"/><circle cx="400.00" cy="417.77" r="2.35"/><circle cx="403.70" cy="418.17" r="2.35"/><circle cx="407.50" cy="418.50" r="2.35"/><circle cx="411.10" cy="418.73" r="2.35"/><circle cx="414.50" cy="418.88" r="2.35"/><circle cx="417.50" cy="418.96" r="2.35"/><circle cx="419.90" cy="418.99" r="2.35"/><circle cx="425.65" cy="418.94" r="2.35"/><circle cx="431.45" cy="418.72" r="2.35"/><circle cx="443.06" cy="417.84" r="2.35"/><circle cx="448.86" cy="417.19" r="2.35"/><circle cx="454.67" cy="416.42" r="2.35"/><circle cx="460.47" cy="415.53" r="2.35"/><circle cx="466.28" cy="414.54" r="2.35"/><circle cx="472.08" cy="413.45" r="2.35"/><circle cx="477.88" cy="412.28" r="2.35"/><circle cx="483.69" cy="411.04" r="2.35"/><circle cx="489.49" cy="409.73" r="2.35"/><circle cx="495.30" cy="408.36" r="2.35"/><circle cx="501.10" cy="406.95" r="2.35"/></g>
<g font-family="Liberation Serif, serif" font-weight="bold" font-size="15" fill="#111"><text x="60.00" y="460.1" font-size="15.6" text-anchor="middle">0</text><text x="140.20" y="460.1" font-size="15.6" text-anchor="middle">1</text><text x="220.40" y="460.1" font-size="15.6" text-anchor="middle">2</text><text x="300.60" y="460.1" font-size="15.6" text-anchor="middle">3</text><text x="380.80" y="460.1" font-size="15.6" text-anchor="middle">4</text><text x="461.00" y="460.1" font-size="15.6" text-anchor="middle">5</text><text x="541.20" y="460.1" font-size="15.6" text-anchor="middle">6</text><text x="54.9" y="20.70" font-size="15.4" text-anchor="end">2</text><text x="54.9" y="63.25" font-size="15.4" text-anchor="end">1.5</text><text x="54.9" y="105.80" font-size="15.4" text-anchor="end">1</text><text x="54.9" y="148.35" font-size="15.4" text-anchor="end">0.5</text><text x="54.9" y="190.90" font-size="15.4" text-anchor="end">0</text><text x="54.9" y="233.45" font-size="15.4" text-anchor="end">-0.5</text><text x="54.9" y="276.00" font-size="15.4" text-anchor="end">-1</text><text x="54.9" y="318.55" font-size="15.4" text-anchor="end">-1.5</text><text x="54.9" y="361.10" font-size="15.4" text-anchor="end">-2</text><text x="54.9" y="403.65" font-size="15.4" text-anchor="end">-2.5</text><text x="54.9" y="446.20" font-size="15.4" text-anchor="end">-3</text></g>
<text transform="translate(270.3,477.2) scale(1.10,1)" font-family="Liberation Serif, serif" font-size="17.2" font-weight="bold" fill="#111">Time,</text>
<text transform="translate(323.8,477.2) scale(1.0,1)" font-family="Liberation Serif, serif" font-size="17.2" font-style="italic" fill="#111">s</text>
<text transform="translate(22.9,303.0) rotate(-90) scale(1.128,1)" font-family="Liberation Serif, serif" font-size="17.2" font-weight="bold" fill="#111">Joint position,</text>
<text transform="translate(22.9,177.5) rotate(-90) scale(1.0,1)" font-family="Liberation Serif, serif" font-size="17.2" font-style="italic" fill="#111">rad</text>
<rect x="491.05" y="192.75" width="50.35" height="111.10" fill="#fff" stroke="#1e1e1e" stroke-width="1.7"/>
<path d="M494 202.9H523.6" stroke="#0b5597" stroke-width="2.1"/>
<circle cx="508.6" cy="202.9" r="2.5" fill="#0b5597"/>
<text x="526" y="205.9" font-family="Liberation Serif, serif" font-style="italic" font-size="15" fill="#111" stroke="#111" stroke-width="0.35">q<tspan font-size="10" font-style="normal" dx="-0.6" dy="2.8">1</tspan></text>
<path d="M494 221.1H523.6" stroke="#0000ff" stroke-width="2.1"/>
<circle cx="508.6" cy="221.1" r="2.5" fill="#0000ff"/>
<text x="526" y="224.1" font-family="Liberation Serif, serif" font-style="italic" font-size="15" fill="#111" stroke="#111" stroke-width="0.35">q<tspan font-size="10" font-style="normal" dx="-0.6" dy="2.8">2</tspan></text>
<path d="M494 239.3H523.6" stroke="#55bec6" stroke-width="2.1"/>
<circle cx="508.6" cy="239.3" r="2.5" fill="#55bec6"/>
<text x="526" y="242.3" font-family="Liberation Serif, serif" font-style="italic" font-size="15" fill="#111" stroke="#111" stroke-width="0.35">q<tspan font-size="10" font-style="normal" dx="-0.6" dy="2.8">3</tspan></text>
<path d="M494 257.5H523.6" stroke="#ff0099" stroke-width="2.1"/>
<circle cx="508.6" cy="257.5" r="2.5" fill="#ff0099"/>
<text x="526" y="260.5" font-family="Liberation Serif, serif" font-style="italic" font-size="15" fill="#111" stroke="#111" stroke-width="0.35">q<tspan font-size="10" font-style="normal" dx="-0.6" dy="2.8">4</tspan></text>
<path d="M494 275.7H523.6" stroke="#f26d3d" stroke-width="2.1"/>
<circle cx="508.6" cy="275.7" r="2.5" fill="#f26d3d"/>
<text x="526" y="278.7" font-family="Liberation Serif, serif" font-style="italic" font-size="15" fill="#111" stroke="#111" stroke-width="0.35">q<tspan font-size="10" font-style="normal" dx="-0.6" dy="2.8">5</tspan></text>
<path d="M494 293.9H502.5M506.5 293.9H519.3" stroke="#fbb800" stroke-width="2"/>
<circle cx="508.6" cy="293.9" r="2.3" fill="#fbb800"/>
<text x="526" y="296.9" font-family="Liberation Serif, serif" font-style="italic" font-size="15" fill="#111" stroke="#111" stroke-width="0.35">q<tspan font-size="10" font-style="normal" dx="-0.6" dy="2.8">6</tspan></text></svg>
</body></html>
